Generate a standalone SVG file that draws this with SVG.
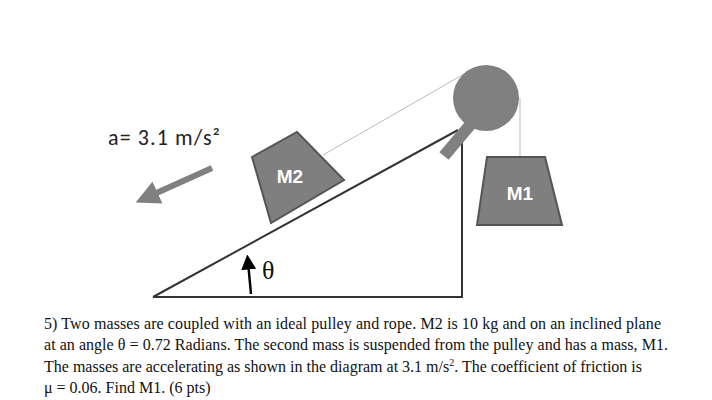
<svg xmlns="http://www.w3.org/2000/svg" width="712" height="400" viewBox="0 0 712 400">
<style>
.mass{fill:#7f7f7f;stroke:#555;stroke-width:2}
.ml{font-family:"Liberation Sans",Arial,sans-serif;font-weight:bold;font-size:19px;fill:#fff;text-anchor:middle}
.rope{stroke:#bbb;stroke-width:1;fill:none}
.q{font-family:"Liberation Serif","Times New Roman",serif;font-size:16px;fill:#111}
</style>
<defs>
<marker id="ah" markerWidth="6" markerHeight="6" refX="3" refY="3" orient="auto" markerUnits="strokeWidth"><path d="M0,0 L6,3 L0,6 z" fill="#000"/></marker>
<marker id="ag" markerWidth="4" markerHeight="4" refX="1" refY="2" orient="auto"><path d="M0,0 L4,2 L0,4 z" fill="#808080"/></marker>
</defs>
<rect width="712" height="400" fill="#fff"/>
<g id="incline"><path d="M153,297 L462,297 L462,135 M153,297 L458,130" fill="none" stroke="#333" stroke-width="2"/></g>
<g id="connectors">
<line class="rope" x1="323" y1="155" x2="464" y2="74"/>
<line class="rope" x1="520" y1="98" x2="520" y2="157"/>
<line x1="212" y1="168" x2="152" y2="195" stroke="#808080" stroke-width="6" marker-end="url(#ag)"/>
<line x1="251" y1="294" x2="248" y2="262" stroke="#000" stroke-width="2.5" marker-end="url(#ah)"/>
</g>
<g id="pulley">
<line x1="444" y1="156" x2="476" y2="118" stroke="#808080" stroke-width="12"/>
<circle cx="486" cy="98" r="33" fill="#808080"/>
</g>
<g id="M2"><polygon class="mass" points="252,157 297,132 344,180 271,223"/><text class="ml" x="290" y="183">M2</text></g>
<g id="M1"><polygon class="mass" points="487,157 545,157 562,225 477,225"/><text class="ml" x="520" y="200">M1</text></g>
<g id="labels">
<text x="108" y="145" font-family="Calibri,'Liberation Sans',sans-serif" font-size="22" fill="#222" textLength="112">a= 3.1 m/s²</text>
<text x="262" y="279" style="font-family:'Liberation Serif',serif;font-size:26px;fill:#111">θ</text>
<text class="q" x="44" y="329" textLength="617">5) Two masses are coupled with an ideal pulley and rope. M2 is 10 kg and on an inclined plane</text>
<text class="q" x="44" y="350" textLength="624">at an angle θ = 0.72 Radians. The second mass is suspended from the pulley and has a mass, M1.</text>
<text class="q" x="44" y="372">The masses are accelerating as shown in the diagram at 3.1 m/s<tspan font-size="10" dy="-6">2</tspan><tspan dy="6">. The coefficient of friction is</tspan></text>
<text class="q" x="44" y="393">μ = 0.06. Find M1. (6 pts)</text>
</g>
</svg>
